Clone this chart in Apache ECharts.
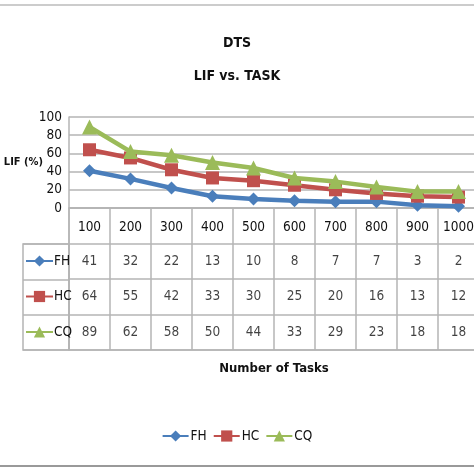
<!DOCTYPE html>
<html>
<head>
<meta charset="utf-8">
<script src="https://cdn.jsdelivr.net/npm/echarts@6/dist/echarts.min.js"></script>
<style>
    html, body {margin: 0; padding: 0; background: #fff;}
    #chart {width: 474px; height: 474px;}
</style>
</head>
<body>
<div id="chart"></div>
<script>
var tasks = ['100', '200', '300', '400', '500', '600', '700', '800', '900', '1000'];
var seriesNames = ['FH', 'HC', 'CQ'];
var fhValues = [41, 32, 22, 13, 10, 8, 7, 7, 3, 2];
var hcValues = [64, 55, 42, 33, 30, 25, 20, 16, 13, 12];
var cqValues = [89, 62, 58, 50, 44, 33, 29, 23, 18, 18];
var yTicks = [0, 20, 40, 60, 80, 100];

var font = "'DejaVu Sans Condensed', 'Liberation Sans Narrow', sans-serif";
var gridColor = '#b4b4b4';
var colors = ['#4a7ebb', '#c0504d', '#9bbb59'];
var symbols = ['diamond', 'rect', 'triangle'];
var sizes = [13, 13, 15];
var numSize = 13.5;

var rows = [fhValues, hcValues, cqValues];

// table cells: [task, row, value]
var cells = [];
rows.forEach(function (vals, r) {
    vals.forEach(function (v, i) {
        cells.push([tasks[i], seriesNames[r], v]);
    });
});

var lineSeries = seriesNames.map(function (name, k) {
    return {
        name: name,
        type: 'line',
        xAxisIndex: 0,
        yAxisIndex: 0,
        data: rows[k],
        symbol: symbols[k],
        symbolSize: sizes[k],
        lineStyle: {width: 4.5, color: colors[k]},
        itemStyle: {color: colors[k]},
        z: 3 + k
    };
});

var chart = echarts.init(document.getElementById('chart'));
chart.setOption({
    animation: false,
    color: colors,
    textStyle: {fontFamily: font, color: '#111'},
    title: [{
        text: 'DTS',
        left: 'center',
        top: 31,
        textStyle: {fontFamily: font, fontSize: 14, fontWeight: 'bold', color: '#111'}
    }, {
        text: 'LIF vs. TASK',
        left: 'center',
        top: 64,
        textStyle: {fontFamily: font, fontSize: 14, fontWeight: 'bold', color: '#111'}
    }],
    legend: [{
        data: seriesNames,
        left: 'center',
        top: 424,
        itemWidth: 26,
        itemHeight: 14,
        itemGap: 6,
        textStyle: {fontFamily: font, fontSize: numSize, color: '#111', padding: [0, 0, 0, -3]}
    }, {
        data: seriesNames,
        orient: 'vertical',
        left: 20,
        top: 249,
        itemWidth: 27,
        itemHeight: 14,
        itemGap: 21.5,
        textStyle: {fontFamily: font, fontSize: numSize, color: '#111', padding: [0, 0, 0, -4]}
    }],
    grid: [{
        left: 69, top: 117, width: 410, height: 91,
        outerBoundsMode: 'none', containLabel: false
    }, {
        left: 69, top: 208, width: 410, height: 142,
        outerBoundsMode: 'none', containLabel: false,
        show: true, borderColor: gridColor, borderWidth: 1.5
    }, {
        left: 23, top: 244, width: 46, height: 106,
        outerBoundsMode: 'none', containLabel: false,
        show: true, borderColor: gridColor, borderWidth: 1.5
    }],
    xAxis: [{
        type: 'category',
        gridIndex: 0,
        data: tasks,
        boundaryGap: true,
        axisLine: {show: false},
        axisTick: {show: false},
        axisLabel: {interval: 0, margin: 12, fontSize: numSize, color: '#111', fontFamily: font}
    }, {
        type: 'category',
        gridIndex: 1,
        data: tasks,
        boundaryGap: true,
        position: 'bottom',
        axisLine: {show: false},
        axisTick: {show: false},
        axisLabel: {show: false},
        splitLine: {show: true, interval: 0, lineStyle: {color: gridColor, width: 1.5}},
        name: 'Number of Tasks',
        nameLocation: 'middle',
        nameGap: 12,
        nameMoveOverlap: false,
        nameTextStyle: {fontFamily: font, fontSize: 13, fontWeight: 'bold', color: '#111'}
    }, {
        type: 'category',
        gridIndex: 2,
        data: [''],
        show: false
    }],
    yAxis: [{
        type: 'value',
        gridIndex: 0,
        min: yTicks[0],
        max: yTicks[yTicks.length - 1],
        interval: 20,
        axisLine: {show: true, lineStyle: {color: gridColor, width: 1.5}},
        axisTick: {show: false},
        axisLabel: {margin: 7, fontSize: numSize, color: '#111', fontFamily: font},
        splitLine: {show: true, lineStyle: {color: gridColor, width: 1.5}},
        name: 'LIF (%)',
        nameLocation: 'middle',
        nameRotate: 0,
        nameGap: 26,
        nameMoveOverlap: false,
        nameTextStyle: {fontFamily: font, fontSize: 11, fontWeight: 'bold', color: '#111', padding: [6, 0, 0, 0]}
    }, {
        type: 'category',
        gridIndex: 1,
        data: [''].concat(seriesNames),
        inverse: true,
        axisLine: {show: false},
        axisTick: {show: false},
        axisLabel: {show: false},
        splitLine: {show: true, interval: 0, lineStyle: {color: gridColor, width: 1.5}}
    }, {
        type: 'category',
        gridIndex: 2,
        data: seriesNames,
        inverse: true,
        axisLine: {show: false},
        axisTick: {show: false},
        axisLabel: {show: false},
        splitLine: {show: true, interval: 0, lineStyle: {color: gridColor, width: 1.5}}
    }],
    graphic: [{
        type: 'line',
        shape: {x1: 0, y1: 5, x2: 474, y2: 5},
        style: {stroke: '#bbb', lineWidth: 1.5}
    }, {
        type: 'line',
        shape: {x1: 0, y1: 466, x2: 474, y2: 466},
        style: {stroke: '#999', lineWidth: 2}
    }],
    series: lineSeries.concat([{
        type: 'scatter',
        xAxisIndex: 1,
        yAxisIndex: 1,
        data: cells,
        symbolSize: 1,
        itemStyle: {color: 'rgba(0,0,0,0)'},
        label: {
            show: true,
            position: 'inside',
            fontFamily: font,
            fontSize: numSize,
            color: '#111',
            formatter: function (p) { return p.value[2]; }
        },
        silent: true
    }])
});
</script>
</body>
</html>
